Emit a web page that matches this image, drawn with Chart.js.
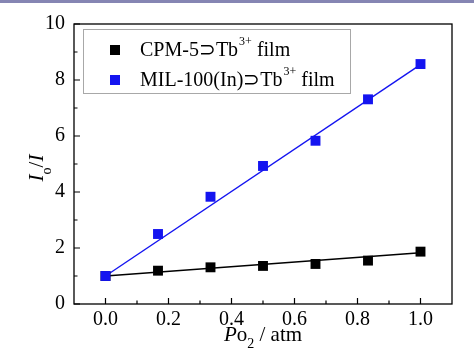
<!DOCTYPE html>
<html>
<head>
<meta charset="utf-8">
<script src="https://cdn.jsdelivr.net/npm/chart.js@4/dist/chart.umd.min.js"></script>
<style>
html,body{margin:0;padding:0;background:#fff;}
#wrap{position:relative;width:474px;height:355px;}
#band{position:absolute;left:0;top:0;width:474px;height:3px;background:#8585b3;}
canvas{display:block;}
</style>
</head>
<body>
<div id="wrap"><canvas id="c" width="474" height="355"></canvas><div id="band"></div></div>
<script>
// ---- data ----
const pressures = [0, 1/6, 1/3, 0.5, 2/3, 5/6, 1.0];
const cpmValues = [1.0, 1.19, 1.31, 1.36, 1.43, 1.55, 1.87];
const milValues = [1.0, 2.50, 3.83, 4.93, 5.83, 7.31, 8.57];
const fitX = [0, 1.0];
const cpmFit = [1.0, 1.83];
const milFit = [1.0, 8.55];
const xMajorTicks = [0, 0.2, 0.4, 0.6, 0.8, 1.0];
const xMinorTicks = [0.1, 0.3, 0.5, 0.7, 0.9];
const yMajorTicks = [0, 2, 4, 6, 8, 10];
const yMinorTicks = [1, 3, 5, 7, 9];
const seriesNames = [["CPM-5\u2283Tb", "3+", " film"], ["MIL-100(In)\u2283Tb", "3+", " film"]];
const seriesColors = ["#000000", "#1414f0"];

const pts = (xs, ys) => xs.map((x, i) => ({x: x, y: ys[i]}));
const FONT = "'Liberation Serif', 'Times New Roman', serif";

const decor = {
  id: 'decor',
  afterDraw(chart) {
    const ctx = chart.ctx, a = chart.chartArea;
    const xs = chart.scales.x, ys = chart.scales.y;
    ctx.save();
    // frame
    ctx.strokeStyle = '#000'; ctx.lineWidth = 1.3;
    ctx.strokeRect(a.left, a.top, a.right - a.left, a.bottom - a.top);
    // inward ticks
    ctx.lineWidth = 1.2;
    ctx.beginPath();
    xMajorTicks.forEach(v => { const p = xs.getPixelForValue(v); ctx.moveTo(p, a.bottom); ctx.lineTo(p, a.bottom - 6); });
    xMinorTicks.forEach(v => { const p = xs.getPixelForValue(v); ctx.moveTo(p, a.bottom); ctx.lineTo(p, a.bottom - 3.5); });
    yMajorTicks.forEach(v => { const p = ys.getPixelForValue(v); ctx.moveTo(a.left, p); ctx.lineTo(a.left + 6, p); });
    yMinorTicks.forEach(v => { const p = ys.getPixelForValue(v); ctx.moveTo(a.left, p); ctx.lineTo(a.left + 3.5, p); });
    ctx.stroke();
    // legend
    const lx = a.left + 9, ly = a.top + 5, lw = 267, lh = 64;
    ctx.strokeStyle = '#a8a8a8'; ctx.lineWidth = 1;
    ctx.strokeRect(lx + 0.5, ly + 0.5, lw, lh);
    seriesNames.forEach((parts, i) => {
      const cy = ly + 21 + i * 30;
      ctx.fillStyle = seriesColors[i];
      ctx.fillRect(lx + 27, cy - 5, 10, 10);
      ctx.fillStyle = '#000';
      ctx.textBaseline = 'middle';
      ctx.textAlign = 'left';
      let tx = lx + 57;
      ctx.font = '20px ' + FONT;
      ctx.fillText(parts[0], tx, cy + 1);
      tx += ctx.measureText(parts[0]).width;
      ctx.font = '12px ' + FONT;
      ctx.fillText(parts[1], tx + 1, cy - 8);
      tx += ctx.measureText(parts[1]).width + 1;
      ctx.font = '20px ' + FONT;
      ctx.fillText(parts[2], tx, cy + 1);
    });
    // y title
    ctx.save();
    ctx.translate(43, 168);
    ctx.rotate(-Math.PI / 2);
    ctx.textBaseline = 'alphabetic';
    const yParts = [["I", 'italic 21px ', 0], ["o", '14px ', 8], ["/", '21px ', 0], ["I", 'italic 21px ', 0]];
    let w = 0;
    yParts.forEach(p => { ctx.font = p[1] + FONT; w += ctx.measureText(p[0]).width; });
    let x0 = -w / 2;
    yParts.forEach(p => { ctx.font = p[1] + FONT; ctx.fillText(p[0], x0, p[2]); x0 += ctx.measureText(p[0]).width; });
    ctx.restore();
    // x title
    const xParts = [["P", 'italic 21px ', 0], ["o", '21px ', 0], ["2", '14px ', 7], [" / atm", '21px ', 0]];
    let w2 = 0;
    xParts.forEach(p => { ctx.font = p[1] + FONT; w2 += ctx.measureText(p[0]).width; });
    let x1 = 263 - w2 / 2;
    ctx.textBaseline = 'alphabetic';
    xParts.forEach(p => { ctx.font = p[1] + FONT; ctx.fillText(p[0], x1, 341 + p[2]); x1 += ctx.measureText(p[0]).width; });
    ctx.restore();
  }
};

new Chart(document.getElementById('c'), {
  type: 'scatter',
  data: {
    datasets: [
      { label: 'CPM fit', data: pts(fitX, cpmFit), showLine: true, borderColor: seriesColors[0], borderWidth: 1.4, pointRadius: 0, order: 4 },
      { label: 'MIL fit', data: pts(fitX, milFit), showLine: true, borderColor: seriesColors[1], borderWidth: 1.4, pointRadius: 0, order: 3 },
      { label: 'CPM', data: pts(pressures, cpmValues), pointStyle: 'rect', pointRadius: 7, backgroundColor: seriesColors[0], borderColor: seriesColors[0], borderWidth: 0, order: 2 },
      { label: 'MIL', data: pts(pressures, milValues), pointStyle: 'rect', pointRadius: 7, backgroundColor: seriesColors[1], borderColor: seriesColors[1], borderWidth: 0, order: 1 }
    ]
  },
  options: {
    responsive: false,
    animation: false,
    layout: { padding: { left: 0, top: 24, right: 22, bottom: 0 } },
    plugins: { legend: { display: false }, tooltip: { enabled: false } },
    scales: {
      x: {
        type: 'linear', min: -0.1, max: 1.1,
        afterBuildTicks: s => { s.ticks = xMajorTicks.map(v => ({value: v})); },
        afterFit: s => { s.height = 51; },
        grid: { display: false, drawTicks: false },
        border: { display: false },
        ticks: { color: '#000', padding: 4, font: { family: FONT, size: 20 }, callback: v => v.toFixed(1), maxRotation: 0, autoSkip: false }
      },
      y: {
        type: 'linear', min: 0, max: 10,
        afterBuildTicks: s => { s.ticks = yMajorTicks.map(v => ({value: v})); },
        afterFit: s => { s.width = 74; },
        grid: { display: false, drawTicks: false },
        border: { display: false },
        ticks: { color: '#000', padding: 9, font: { family: FONT, size: 20 }, callback: v => String(v) }
      }
    }
  },
  plugins: [decor]
});
</script>
</body>
</html>
